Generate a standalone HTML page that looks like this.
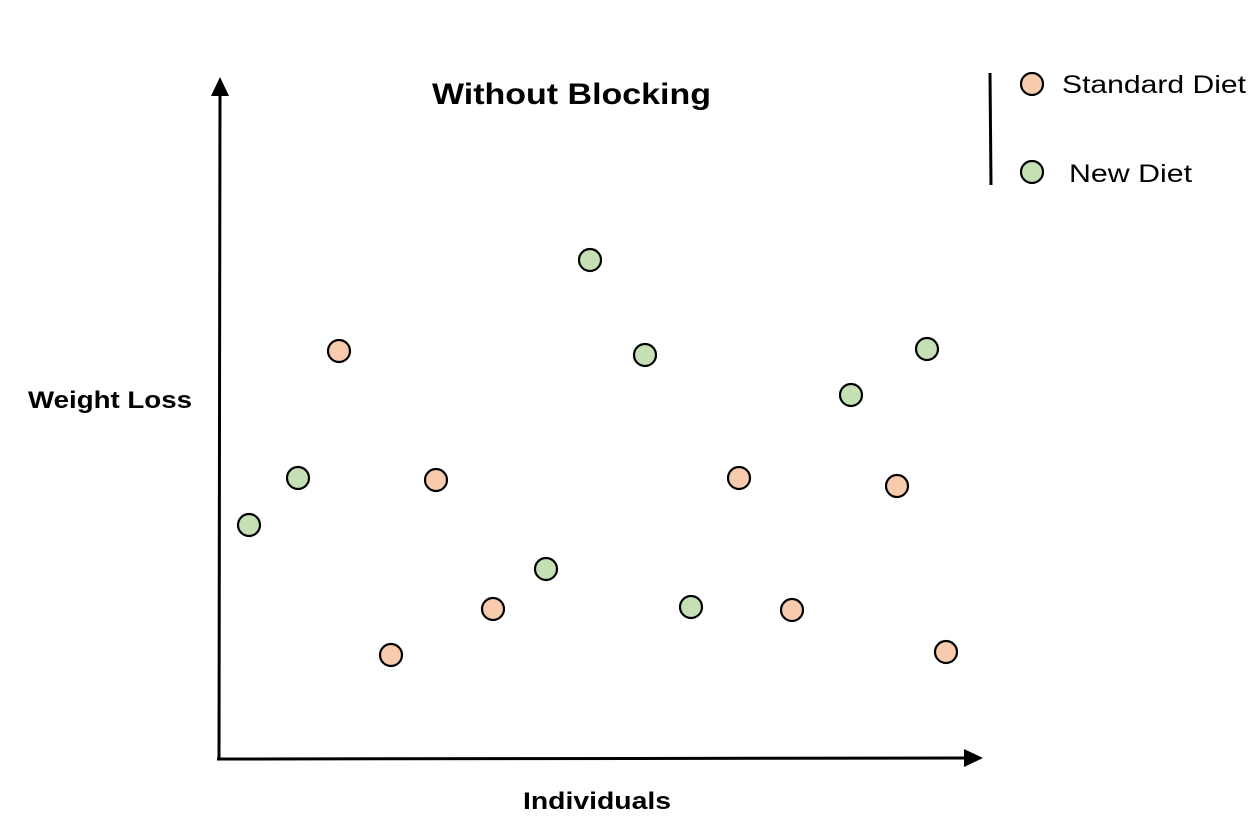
<!DOCTYPE html>
<html><head><meta charset="utf-8"><style>body{margin:0;background:#fff}svg{display:block}text{font-family:"Liberation Sans",sans-serif}</style></head><body>
<svg width="1254" height="817" viewBox="0 0 1254 817">
<line x1="220" y1="92" x2="219" y2="760" stroke="#000" stroke-width="3"/>
<polygon points="220,77 211,96 229,96" fill="#000"/>
<line x1="217" y1="759" x2="966" y2="758" stroke="#000" stroke-width="3"/>
<polygon points="983,758 964,749 964,767" fill="#000"/>
<line x1="990" y1="73" x2="991" y2="185" stroke="#000" stroke-width="3"/>
<text x="432" y="104" font-size="30" font-weight="bold" textLength="279" lengthAdjust="spacingAndGlyphs">Without Blocking</text>
<text x="28" y="408" font-size="24" font-weight="bold" textLength="164" lengthAdjust="spacingAndGlyphs">Weight Loss</text>
<text x="523" y="809" font-size="24" font-weight="bold" textLength="148" lengthAdjust="spacingAndGlyphs">Individuals</text>
<text x="1062" y="93" font-size="25" textLength="184" lengthAdjust="spacingAndGlyphs">Standard Diet</text>
<text x="1069" y="182" font-size="25" textLength="123" lengthAdjust="spacingAndGlyphs">New Diet</text>
<g stroke="#000" stroke-width="2.2" fill="#C5E0B4">
<circle cx="1032" cy="172" r="11"/>
<circle cx="249" cy="525" r="11"/><circle cx="298" cy="478" r="11"/><circle cx="546" cy="569" r="11"/><circle cx="590" cy="260" r="11"/><circle cx="645" cy="355" r="11"/><circle cx="691" cy="607" r="11"/><circle cx="851" cy="395" r="11"/><circle cx="927" cy="349" r="11"/>
</g>
<g stroke="#000" stroke-width="2.2" fill="#F8CBAD">
<circle cx="1032" cy="84" r="11"/>
<circle cx="339" cy="351" r="11"/><circle cx="391" cy="655" r="11"/><circle cx="436" cy="480" r="11"/><circle cx="493" cy="609" r="11"/><circle cx="739" cy="478" r="11"/><circle cx="792" cy="610" r="11"/><circle cx="897" cy="486" r="11"/><circle cx="946" cy="652" r="11"/>
</g>
</svg>
</body></html>
